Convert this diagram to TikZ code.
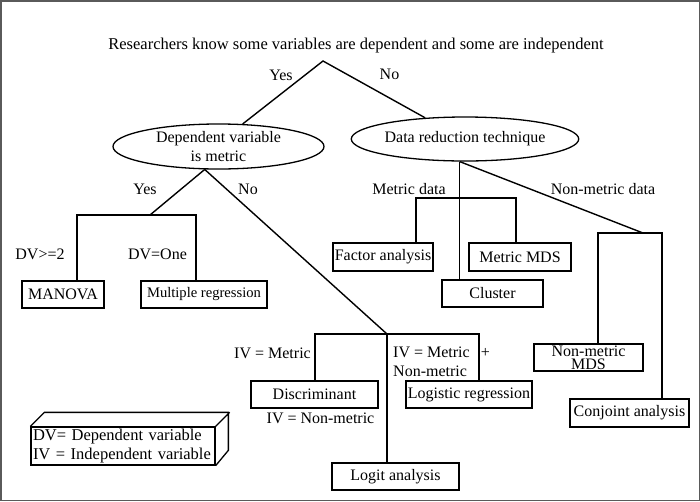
\documentclass[tikz,border=0pt]{standalone}
\usepackage{fontspec}
\setmainfont{Liberation Serif}
\usetikzlibrary{shapes.geometric,calc}
\definecolor{framegray}{RGB}{90,90,90}
\begin{document}
\begin{tikzpicture}[x=1pt,y=-1pt,
  every node/.style={font=\fontsize{16}{19}\selectfont},
  lbl/.style={anchor=base, inner sep=0pt},
  box/.style={draw, line width=1.3pt, inner sep=0pt, minimum height=27},
  ell/.style={draw, ellipse, line width=1.3pt, inner sep=0pt, minimum width=211, minimum height=45, align=center},
  conn/.style={line width=1.4pt}]
\useasboundingbox (0,0) rectangle (700,501);
\draw[line width=1.5pt, framegray] (0.75,0.75) rectangle (699.25,500.25);

% top
\node[lbl, font=\fontsize{16.5}{19}\selectfont] (title) at (356,49) {Researchers know some variables are dependent and some are independent};
\coordinate (apex) at (323,61);
\node[lbl] (yes1) at (281,80) {Yes};
\node[lbl] (no1) at (389.5,79) {No};
\node[ell] (e1) at (218.5,146.5) {Dependent variable\\is metric};
\node[ell, minimum width=212, minimum height=44] (e2) at (465,139) {Data reduction technique};
\draw[conn] (e1.43) -- (apex) -- (e2.152);

% left branch
\node[lbl] (yes2) at (145,194) {Yes};
\node[lbl] (no2) at (248,194) {No};
\coordinate (lbj) at (150,215);
\node[box, minimum width=82] (manova) at (63,294.5) {MANOVA};
\node[box, minimum width=126, font=\fontsize{14.6}{17}\selectfont] (mreg) at (204,294.5) {Multiple regression};
\draw[conn] (e1.239) -- (lbj);
\draw[conn] ([xshift=14pt]manova.north) |- (lbj) -| ([xshift=-8pt]mreg.north);
\node[lbl] (dv2) at (40,259) {DV>=2};
\node[lbl] (dv1) at (157.5,259) {DV=One};

% lower middle
\coordinate (lj) at (387,334);
\draw[conn] (e1.239) -- (lj);
\node[box, minimum width=127] (disc) at (314.5,394.5) {Discriminant};
\node[box, minimum width=126] (logreg) at (469,394.5) {Logistic regression};
\node[box, minimum width=127] (logit) at (395.5,476.5) {Logit analysis};
\draw[conn] ([xshift=0.5pt]disc.north) |- (lj) -| ([xshift=10pt]logreg.north);
\draw[conn] (lj) -- (lj |- logit.north);
\node[lbl, anchor=base east] (ivm) at (311,358) {IV = Metric};
\node[lbl] (ivn) at (320.5,423) {IV = Non-metric};
\node[inner sep=0pt, anchor=north west, align=left] (ivmn) at (393,346.4) {IV = Metric\hspace{11pt}+\\Non-metric};

% right branch
\node[lbl] (md) at (409,194) {Metric data};
\node[lbl] (nmd) at (603,194) {Non-metric data};
\node[box, minimum width=100, minimum height=28] (fa) at (383,257) {Factor analysis};
\node[box, minimum width=102, minimum height=28] (mmds) at (520,257) {Metric MDS};
\node[box, minimum width=101] (cluster) at (492.5,293.5) {Cluster};
\coordinate (mb) at (460,198);
\draw[conn] ([xshift=33pt]fa.north) |- (mb) -| ([xshift=-4pt]mmds.north);
\draw[conn] (e2.257) -- (e2.257 |- cluster.north);
\coordinate (nmj) at (643,233);
\draw[conn] (e2.257) -- (nmj);
\node[box, minimum width=109, align=center, font=\fontsize{16}{13}\selectfont] (nmmds) at (588.5,357.5) {Non-metric\\MDS};
\node[box, minimum width=119, minimum height=28] (conj) at (629.5,413) {Conjoint analysis};
\draw[conn] ([xshift=9.5pt]nmmds.north) |- (nmj) -| ([xshift=32.5pt]conj.north);

% legend
\node[box, minimum width=184, minimum height=38, align=left, text width=180pt, inner xsep=2pt, font=\fontsize{16.5}{19}\selectfont] (leg) at (123,446) {DV= Dependent variable\\IV = Independent variable};
\draw[line width=1.3pt, line join=miter] (leg.north west) -- ++(14,-14) -- ++(184,0) -- ++(0,38) -- (leg.south east) (leg.north east) -- ++(14,-14);
\end{tikzpicture}
\end{document}
